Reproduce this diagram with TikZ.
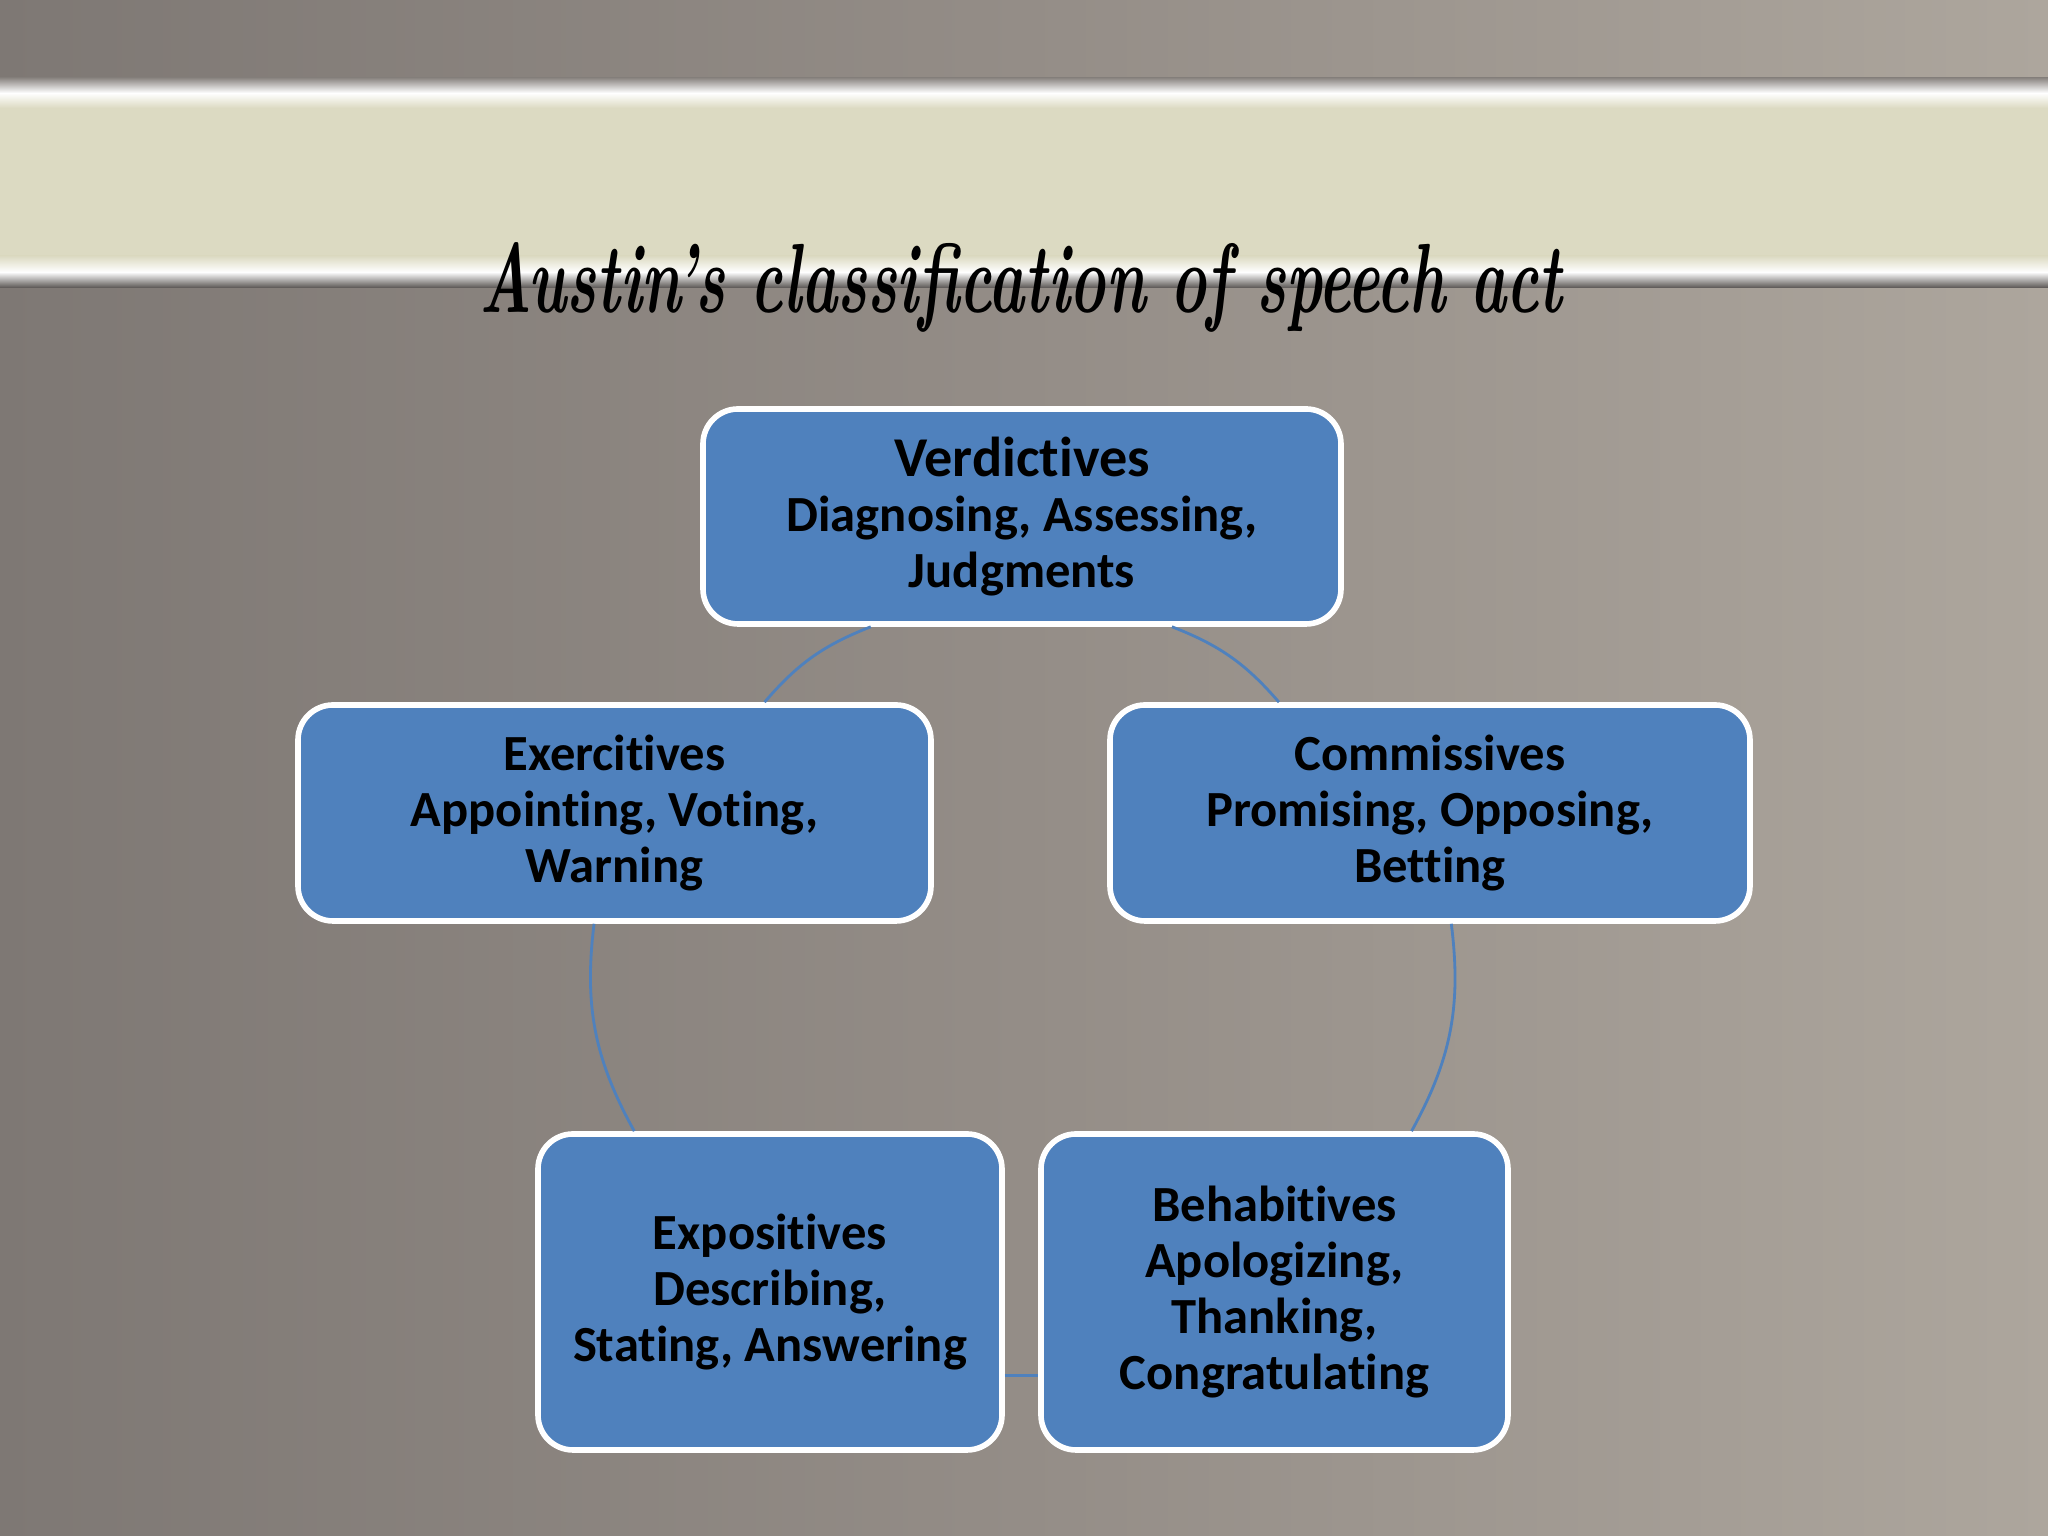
\documentclass[tikz,border=0pt]{standalone}
\usepackage{fontspec}
\usepackage{tikz}
\usetikzlibrary{calc}
\newfontfamily\calibri[Ligatures=NoCommon]{Carlito}
\definecolor{boxblue}{HTML}{4F81BD}
\definecolor{slateleft}{HTML}{7E7874}
\definecolor{slatemid}{HTML}{948D87}
\definecolor{slateright}{HTML}{ADA69D}
\definecolor{cream}{HTML}{DCDAC2}

\begin{document}
\begin{tikzpicture}
			\tikzset{box/.style={rectangle, rounded corners=0.35cm, draw=white, line width=1.6pt, fill=boxblue, align=center, inner sep=0pt, font=\calibri\bfseries\fontsize{14.4}{15.9}\selectfont}}
			\tikzset{link/.style={draw=boxblue, line width=0.8pt}}
			%\tikzset{link/.style={draw=boxblue!80!black, line width=1pt}}
			\useasboundingbox (0,0) rectangle (20.48,15.36);
			% slide background
			\shade[left color=slateleft, right color=slateright, middle color=slatemid] (0,0) rectangle (20.48,15.36);
			\fill[cream] (0,12.76) rectangle (20.48,14.34);
			\shade[top color=slateleft!90!white, bottom color=cream, middle color=white] (0,14.28) rectangle (20.48,14.58);
			\shade[top color=cream, bottom color=slateleft!70!black, middle color=white] (0,12.48) rectangle (20.48,12.80);
			% title
			\node[anchor=base] (title) at (10.21,12.23) {\scalebox{0.62}[1]{\fontsize{28}{30}\selectfont\bfseries\itshape Austin’s classification of speech act}};
			% the five classes
			\node[box, minimum width=6.38cm, minimum height=2.15cm] (ver) at (10.22,10.195)
				{{\fontsize{16}{17.5}\selectfont Verdictives}\\Diagnosing, Assessing,\\Judgments};
			\node[box, minimum width=6.33cm, minimum height=2.16cm] (exe) at (6.145,7.23)
				{Exercitives\\Appointing, Voting,\\Warning};
			\node[box, minimum width=6.40cm, minimum height=2.16cm] (com) at (14.30,7.23)
				{Commissives\\Promising, Opposing,\\Betting};
			\node[box, minimum width=4.64cm, minimum height=3.16cm] (expo) at (7.70,2.44)
				{Expositives\\Describing,\\Stating, Answering};
			\node[box, minimum width=4.67cm, minimum height=3.16cm] (beh) at (12.745,2.44)
				{Behabitives\\Apologizing,\\Thanking,\\Congratulating};
			% cycle arcs
			\draw[link] ($(ver.south west)!0.265!(ver.south east)$) to[bend right=14] ($(exe.north west)!0.735!(exe.north east)$);
			\draw[link] ($(ver.south west)!0.733!(ver.south east)$) to[bend left=14] ($(com.north west)!0.266!(com.north east)$);
			\draw[link] ($(exe.south west)!0.468!(exe.south east)$) to[bend right=18] ($(expo.north west)!0.211!(expo.north east)$);
			\draw[link] ($(com.south west)!0.533!(com.south east)$) to[bend left=18] ($(beh.north west)!0.79!(beh.north east)$);
			\draw[link] ($(expo.south east)!0.24!(expo.north east)$) -- ($(beh.south west)!0.24!(beh.north west)$);
			\end{tikzpicture}
\end{document}
